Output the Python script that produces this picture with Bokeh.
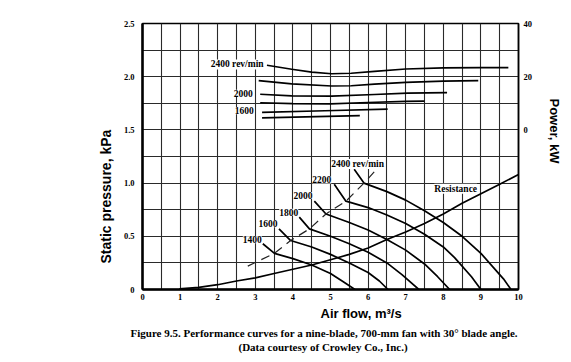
from bokeh.plotting import figure
from bokeh.models import Range1d, LinearAxis, FixedTicker, Label, Title, CustomJSTickFormatter
from bokeh.embed import file_html
from bokeh.resources import INLINE

# ---------------- data (air flow m^3/s, static pressure kPa) ----------------
fan_speeds = ["1400", "1600", "1800", "2000", "2200", "2400"]

p1400_q = [3.2, 3.51, 4.0, 4.5, 5.0, 5.35, 5.65]
p1400_p = [0.43, 0.34, 0.29, 0.23, 0.15, 0.07, 0.0]
p1600_q = [3.63, 3.94, 4.5, 5.0, 5.5, 6.0, 6.3, 6.53]
p1600_p = [0.57, 0.46, 0.40, 0.33, 0.25, 0.16, 0.08, 0.0]
p1800_q = [4.17, 4.44, 5.0, 5.5, 6.0, 6.5, 6.9, 7.35]
p1800_p = [0.68, 0.57, 0.50, 0.43, 0.35, 0.25, 0.14, 0.0]
p2000_q = [4.57, 4.88, 5.5, 6.0, 6.5, 7.0, 7.5, 7.85, 8.17]
p2000_p = [0.83, 0.71, 0.63, 0.56, 0.47, 0.37, 0.24, 0.12, 0.0]
p2200_q = [5.1, 5.41, 6.0, 6.5, 7.0, 7.5, 8.0, 8.3, 8.75, 9.0]
p2200_p = [0.99, 0.83, 0.77, 0.70, 0.62, 0.52, 0.40, 0.30, 0.12, 0.0]
p2400_q = [5.63, 5.89, 6.5, 7.0, 7.5, 8.0, 8.5, 9.0, 9.4, 9.6, 9.8]
p2400_p = [1.13, 1.00, 0.92, 0.84, 0.74, 0.63, 0.50, 0.34, 0.18, 0.10, 0.0]

# system resistance curve
res_q = [0.98, 1.5, 2.0, 2.5, 3.0, 3.5, 4.0, 4.5, 5.0, 5.5, 6.0, 6.5, 7.0, 7.5, 8.0, 8.5, 9.0, 9.5, 10.0]
res_p = [0.005, 0.02, 0.045, 0.08, 0.11, 0.15, 0.19, 0.23, 0.28, 0.33, 0.39, 0.47, 0.54, 0.62, 0.71, 0.81, 0.90, 0.99, 1.08]

# dashed line through the knee points
knee_q = [2.8, 3.51, 3.94, 4.44, 4.88, 5.41, 5.89, 6.2]
knee_p = [0.22, 0.34, 0.46, 0.57, 0.71, 0.83, 1.00, 1.12]

# power curves (air flow m^3/s, power kW)
w1400_q = [3.18, 5.78]
w1400_w = [4.5, 5.4]
w1600_q = [3.18, 4.85, 6.52]
w1600_w = [6.6, 7.2, 7.8]
w1800_q = [3.13, 4.0, 5.0, 6.0, 7.0, 7.5]
w1800_w = [10.2, 9.9, 9.8, 10.3, 10.7, 10.8]
w2000_q = [3.13, 3.97, 5.03, 6.17, 7.05, 8.1]
w2000_w = [13.4, 12.8, 12.7, 13.3, 13.8, 14.0]
w2200_q = [3.09, 3.97, 5.03, 5.55, 6.17, 7.0, 8.0, 8.93]
w2200_w = [18.5, 17.3, 16.5, 16.6, 17.2, 17.9, 18.3, 18.5]
w2400_q = [3.31, 3.97, 4.5, 5.03, 5.55, 6.17, 7.0, 8.0, 9.0, 9.73]
w2400_w = [24.3, 22.8, 21.7, 21.1, 21.3, 22.0, 22.9, 23.3, 23.4, 23.4]

x_ticks = [0, 1, 2, 3, 4, 5, 6, 7, 8, 9, 10]
y_ticks = [0, 0.5, 1.0, 1.5, 2.0, 2.5]
kw_ticks = [0, 20, 40]

x_title = "Air flow, m³/s"
y_title = "Static pressure, kPa"
kw_title = "Power, kW"
caption1 = "Figure 9.5. Performance curves for a nine-blade, 700-mm fan with 30° blade angle."
caption2 = "(Data courtesy of Crowley Co., Inc.)"

# ---------------- figure ----------------
W, H = 571, 356
p = figure(width=W, height=H, output_backend="svg", toolbar_location=None,
           x_range=Range1d(0, 10), y_range=Range1d(0, 2.5),
           min_border_left=142, min_border_right=W - 520, min_border_top=23, min_border_bottom=H - 289)
p.extra_y_ranges = {"power": Range1d(-60, 40)}
right_axis = LinearAxis(y_range_name="power")
p.add_layout(right_axis, "right")

p.background_fill_color = "white"
p.border_fill_color = "white"
p.outline_line_color = "black"
p.outline_line_width = 1.5

p.xaxis.ticker = FixedTicker(ticks=x_ticks)
p.yaxis.ticker = FixedTicker(ticks=y_ticks)
right_axis.ticker = FixedTicker(ticks=kw_ticks)
p.yaxis[0].formatter = CustomJSTickFormatter(code="return tick == 0 ? '0' : tick.toFixed(1);")

for ax in [p.xaxis[0], p.yaxis[0], right_axis]:
    ax.major_tick_in = 0
    ax.major_tick_out = 0
    ax.minor_tick_in = 0
    ax.minor_tick_out = 0
    ax.major_label_text_font = "Liberation Serif"
    ax.major_label_text_font_style = "bold"
    ax.major_label_text_font_size = "8.5px"
    ax.major_label_text_color = "black"
    ax.axis_line_color = "black"
p.xaxis[0].axis_line_width = 2.5
p.yaxis[0].axis_line_width = 2.5
right_axis.axis_line_width = 1.5
p.xaxis[0].major_label_standoff = 4
p.yaxis[0].major_label_standoff = 8
right_axis.major_label_standoff = 5

p.xgrid.ticker = FixedTicker(ticks=[0.5 * i for i in range(1, 20)])
p.ygrid.ticker = FixedTicker(ticks=[0.25 * i for i in range(1, 10)])
for g in [p.xgrid[0], p.ygrid[0]]:
    g.grid_line_color = "#2a2a2a"
    g.grid_line_width = 1.1
    g.grid_line_alpha = 1.0

lw = 1.7
for q, pr in [(p1400_q, p1400_p), (p1600_q, p1600_p), (p1800_q, p1800_p),
              (p2000_q, p2000_p), (p2200_q, p2200_p), (p2400_q, p2400_p)]:
    p.line(q, pr, line_color="black", line_width=lw, line_join="round")
p.line(res_q, res_p, line_color="black", line_width=lw)
p.line(knee_q, knee_p, line_color="#222222", line_width=1.2, line_dash="9 6")

for q, w in [(w1400_q, w1400_w), (w1600_q, w1600_w), (w1800_q, w1800_w),
             (w2000_q, w2000_w), (w2200_q, w2200_w), (w2400_q, w2400_w)]:
    p.line(q, w, y_range_name="power", line_color="black", line_width=lw)

def lab(x, y, t, align="center", rng="default"):
    kw = dict(x=x, y=y, text=t, text_font="Liberation Serif", text_font_style="bold",
              text_font_size="9.5px", text_align=align, text_baseline="middle",
              text_color="black", background_fill_color="white")
    if rng != "default":
        kw["y_range_name"] = rng
    p.add_layout(Label(**kw))

# pressure-curve labels
lab(5.72, 1.18, "2400 rev/min")
lab(4.77, 1.03, "2200")
lab(4.27, 0.883, "2000")
lab(3.89, 0.727, "1800")
lab(3.34, 0.617, "1600")
lab(2.92, 0.467, "1400")
lab(8.33, 0.947, "Resistance")

# power-curve labels
lab(3.22, 24.6, "2400 rev/min", align="right", rng="power")
lab(2.93, 13.8, "2000", align="right", rng="power")
lab(2.96, 7.2, "1600", align="right", rng="power")

# axis titles and caption as side titles
def side_title(text, place, offset, font, size, standoff, **extra):
    t = Title(text=text, align="left", offset=offset, text_font=font, text_font_style="bold",
              text_font_size=size, text_color="black", standoff=standoff, **extra)
    p.add_layout(t, place)

side_title(y_title, "left", 26, "Liberation Sans", "14px", 13)
side_title(kw_title, "right", 75, "Liberation Sans", "13px", 19, vertical_align="top")
side_title(x_title, "below", 178, "Liberation Sans", "13px", 2)
side_title(caption1, "below", -12, "Liberation Serif", "11px", 6)
side_title(caption2, "below", 96, "Liberation Serif", "11px", -5)

open("out.html", "w").write(file_html(p, INLINE))
